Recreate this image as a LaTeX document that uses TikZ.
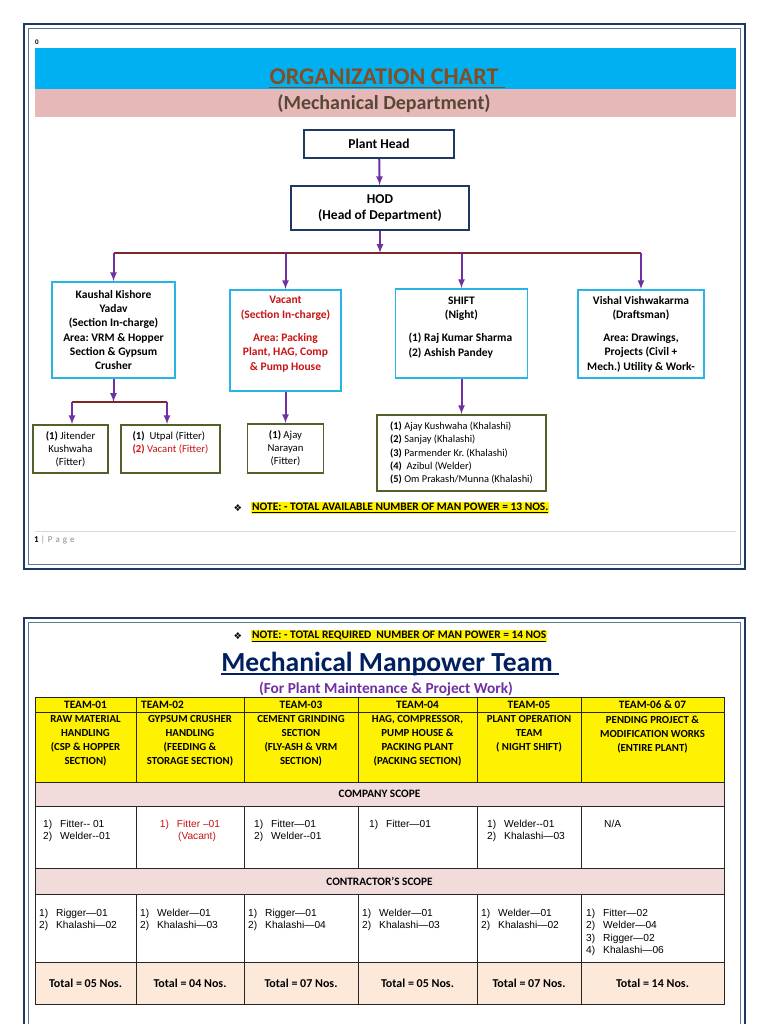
\documentclass[tikz,border=0pt]{standalone}
\usepackage{fontspec}
\setmainfont{Carlito}
\newfontfamily\arialfont{Liberation Sans}
\newfontfamily\symfont{DejaVu Sans}
\frenchspacing

\definecolor{framenavy}{RGB}{31,56,100}
\definecolor{skyband}{RGB}{0,176,240}
\definecolor{pinkband}{RGB}{230,184,183}
\definecolor{titlebrown}{RGB}{132,78,36}
\definecolor{subbrown}{RGB}{89,72,56}
\definecolor{arrowpurple}{RGB}{112,48,160}
\definecolor{busred}{RGB}{125,40,40}
\definecolor{boxcyan}{RGB}{40,180,230}
\definecolor{staffolive}{RGB}{79,98,40}
\definecolor{vacred}{RGB}{200,20,20}
\definecolor{teamnavy}{RGB}{0,32,96}
\definecolor{scopepink}{RGB}{242,220,219}
\definecolor{totalpeach}{RGB}{253,233,217}

\newcommand{\fsz}[2]{\fontsize{#1}{#2}\selectfont}
\newcommand{\numlbl}[1]{\makebox[17pt][l]{#1}}

\begin{document}
\begin{tikzpicture}[x=1pt, y=-1pt, >=latex,
    headbox/.style={draw=framenavy, line width=1.6, fill=white, align=center, font=\fsz{13.5}{16}\bfseries},
    orgbox/.style={draw=boxcyan, line width=1.6, align=center, font=\fsz{11.5}{14.3}\bfseries},
    staffbox/.style={draw=staffolive, line width=1.6, align=center, font=\fsz{10.7}{13}},
    arrow/.style={->, arrowpurple, line width=2},
    bus/.style={busred, line width=1.6},
    note/.style={fill=yellow, inner sep=1, anchor=west, font=\fsz{11.4}{13}\bfseries},
    grid/.style={black!85, line width=0.8},
    teamhead/.style={inner sep=0, font=\fsz{11.3}{13}\bfseries},
    teamdesc/.style={anchor=north, align=center, inner sep=0, font=\fsz{10.8}{14}\bfseries},
    celltxt/.style={anchor=north west, align=left, inner sep=0, font=\arialfont\fsz{10.2}{12.3}},
    totaltxt/.style={inner sep=0, font=\fsz{12}{14}\bfseries}]
  \useasboundingbox (0,0) rectangle (768,1024);
  \fill[white] (0,0) rectangle (768,1024);

  % Page frames
  \draw[framenavy, line width=2.5] (24,24) rectangle (745,569);
  \draw[framenavy!70, line width=0.7] (28.5,28.5) rectangle (740.5,564.5);
  \draw[framenavy, line width=2.5] (24,618) rectangle (745,1040);
  \draw[framenavy!70, line width=0.7] (28.5,622.5) rectangle (740.5,1040);
  \node[font=\fsz{7}{8}\bfseries] (zero) at (37,42) {0};

  % Title bands
  \fill[skyband] (35,48) rectangle (736,89);
  \fill[pinkband] (35,89) rectangle (736,117);
  \node[anchor=base, inner sep=0, text=titlebrown, font=\fsz{24}{27}\bfseries] (orgtitle) at (384,85) {ORGANIZATION CHART};
  \draw[titlebrown, line width=1.4] ([yshift=-2.5pt]orgtitle.base west) -- ([xshift=6pt, yshift=-2.5pt]orgtitle.base east);
  \node[anchor=base, inner sep=0, text=subbrown, font=\fsz{20}{23}\bfseries] (dept) at (384,110) {(Mechanical Department)};

  % Heads
  \node[headbox, minimum width=150, minimum height=28] (plant) at (379,144) {Plant Head};
  \node[headbox, minimum width=178, minimum height=44] (hod) at (380,208) {HOD\\(Head of Department)};
  \draw[arrow] (plant) -- (hod);

  % Section boxes
  \node[orgbox, minimum width=123, minimum height=96] (kaushal) at (113.5,330)
    {Kaushal Kishore\\Yadav\\(Section In-charge)\\Area: VRM \& Hopper\\Section \& Gypsum\\Crusher};
  \node[orgbox, text=vacred, minimum width=111, minimum height=101] (vacant) at (285.5,340.5)
    {Vacant\\(Section In-charge)\\[9pt]Area: Packing\\Plant, HAG, Comp\\\& Pump House\\~};
  \node[orgbox, minimum width=132, minimum height=89] (shift) at (461.5,333.5)
    {SHIFT\\(Night)\\[9pt]\makebox[106pt][l]{(1) Raj Kumar Sharma}\\\makebox[106pt][l]{(2) Ashish Pandey}\\~};
  \node[orgbox, minimum width=126, minimum height=88] (vishal) at (641,334)
    {Vishal Vishwakarma\\(Draftsman)\\[9pt]Area: Drawings,\\Projects (Civil +\\Mech.) Utility \& Work-};

  \coordinate (busL) at (113.5,253);
  \coordinate (busR) at (641,253);
  \draw[bus] (busL) -- (busR);
  \draw[arrow] (hod) -- (hod |- busL);
  \draw[arrow] (kaushal |- busL) -- (kaushal);
  \draw[arrow] (vacant |- busL) -- (vacant);
  \draw[arrow] (shift |- busL) -- (shift);
  \draw[arrow] (vishal |- busL) -- (vishal);

  % Staff boxes
  \node[staffbox, minimum width=75, minimum height=48] (jitender) at (70.5,449) {\textbf{(1)} Jitender\\Kushwaha\\(Fitter)};
  \node[staffbox, align=left, minimum width=99, minimum height=48] (utpal) at (170.5,449)
    {\textbf{(1)}\ \ Utpal (Fitter)\\\textcolor{vacred}{\textbf{(2)} Vacant (Fitter)}\\~};
  \node[staffbox, minimum width=76, minimum height=49] (ajay) at (285.5,448.5) {\textbf{(1)} Ajay\\Narayan\\(Fitter)};
  \node[staffbox, align=left, minimum width=169, minimum height=76, font=\fsz{10.4}{13.2}] (shiftteam) at (461.5,453)
    {\textbf{(1)} Ajay Kushwaha (Khalashi)\\\textbf{(2)} Sanjay (Khalashi)\\\textbf{(3)} Parmender Kr. (Khalashi)\\\textbf{(4)}\ \ Azibul (Welder)\\\textbf{(5)} Om Prakash/Munna (Khalashi)};

  \coordinate (subL) at (72,402);
  \coordinate (subR) at (167,402);
  \draw[arrow] (kaushal) -- (kaushal |- subL);
  \draw[bus] (subL) -- (subR);
  \draw[arrow] (subL) -- (subL |- jitender.north);
  \draw[arrow] (subR) -- (subR |- utpal.north);
  \draw[arrow] (vacant) -- (ajay);
  \draw[arrow] (shift) -- (shiftteam);

  % Note and footer of page 1
  \node[font=\symfont\fsz{9.5}{10}] (diam1) at (238,508) {❖};
  \node[note] (note1) at (251,508) {\underline{NOTE: - TOTAL AVAILABLE NUMBER OF MAN POWER = 13 NOS.}};
  \draw[black!15, line width=0.8] (35,531) -- (736,531);
  \node[anchor=west, inner sep=0, font=\fsz{9}{10}] (footer) at (34,540)
    {\textbf{1}\hspace{2pt}\textcolor{black!45}{|\hspace{3pt}P\hspace{3pt}a\hspace{3pt}g\hspace{3pt}e}};

  % Page 2 titles
  \node[font=\symfont\fsz{9.5}{10}] (diam2) at (238,636) {❖};
  \node[note] (note2) at (251,636) {\underline{NOTE: - TOTAL REQUIRED\ \ NUMBER OF MAN POWER = 14 NOS}};
  \node[anchor=base, inner sep=0, text=teamnavy, font=\fsz{27.6}{31}\bfseries] (teamtitle) at (387,671) {Mechanical Manpower Team};
  \draw[teamnavy, line width=1.5] ([yshift=-3pt]teamtitle.base west) -- ([xshift=6pt, yshift=-3pt]teamtitle.base east);
  \node[anchor=base, inner sep=0, text=arrowpurple, font=\fsz{15.3}{18}\bfseries] (purpose) at (386,693) {(For Plant Maintenance \& Project Work)};

  % Table fills and grid
  \fill[yellow] (35,697) rectangle (724,782);
  \fill[scopepink] (35,782) rectangle (724,806);
  \fill[scopepink] (35,868) rectangle (724,894);
  \fill[totalpeach] (35,962) rectangle (724,1004);
  \draw[grid] (35,697) rectangle (724,1004);
  \draw[grid] (35,712) -- (724,712) (35,782) -- (724,782) (35,806) -- (724,806)
    (35,868) -- (724,868) (35,894) -- (724,894) (35,962) -- (724,962);
  \draw[grid] (136,697) -- (136,782) (244,697) -- (244,782) (358,697) -- (358,782)
    (477,697) -- (477,782) (581,697) -- (581,782);
  \draw[grid] (136,806) -- (136,868) (244,806) -- (244,868) (358,806) -- (358,868)
    (477,806) -- (477,868) (581,806) -- (581,868);
  \draw[grid] (136,894) -- (136,1004) (244,894) -- (244,1004) (358,894) -- (358,1004)
    (477,894) -- (477,1004) (581,894) -- (581,1004);

  % Team headers
  \node[teamhead] (team1) at (85.5,704.5) {TEAM-01};
  \node[teamhead, anchor=west] (team2) at (141,704.5) {TEAM-02};
  \node[teamhead] (team3) at (301,704.5) {TEAM-03};
  \node[teamhead] (team4) at (417.5,704.5) {TEAM-04};
  \node[teamhead] (team5) at (529,704.5) {TEAM-05};
  \node[teamhead] (team6) at (652.5,704.5) {TEAM-06 \& 07};

  \node[teamdesc] (area1) at (85.5,715.5) {RAW MATERIAL\\HANDLING\\(CSP \& HOPPER\\SECTION)};
  \node[teamdesc] (area2) at (190,715.5) {GYPSUM CRUSHER\\HANDLING\\(FEEDING \&\\STORAGE SECTION)};
  \node[teamdesc] (area3) at (301,715.5) {CEMENT GRINDING\\SECTION\\(FLY-ASH \& VRM\\SECTION)};
  \node[teamdesc] (area4) at (417.5,715.5) {HAG, COMPRESSOR,\\PUMP HOUSE \&\\PACKING PLANT\\(PACKING SECTION)};
  \node[teamdesc] (area5) at (529,715.5) {PLANT OPERATION\\TEAM\\( NIGHT SHIFT)};
  \node[teamdesc] (area6) at (652.5,715.5) {PENDING PROJECT \&\\MODIFICATION WORKS\\(ENTIRE PLANT)};

  % Company scope
  \node[teamhead] (companyscope) at (379.5,794) {COMPANY SCOPE};
  \node[celltxt] (comp1) at (43,820) {\numlbl{1)}Fitter-{}- 01\\\numlbl{2)}Welder-{}-01};
  \node[celltxt, anchor=north, align=center, text=vacred] (comp2) at (190,820) {\numlbl{1)}Fitter –01\\\hspace*{14pt}(Vacant)};
  \node[celltxt] (comp3) at (254,820) {\numlbl{1)}Fitter—01\\\numlbl{2)}Welder-{}-01};
  \node[celltxt] (comp4) at (369,820) {\numlbl{1)}Fitter—01};
  \node[celltxt] (comp5) at (487,820) {\numlbl{1)}Welder-{}-01\\\numlbl{2)}Khalashi—03};
  \node[celltxt] (comp6) at (604,820) {N/A};

  % Contractor scope
  \node[teamhead] (contractscope) at (379.5,881) {CONTRACTOR'S SCOPE};
  \node[celltxt] (contr1) at (39,909) {\numlbl{1)}Rigger—01\\\numlbl{2)}Khalashi—02};
  \node[celltxt] (contr2) at (140,909) {\numlbl{1)}Welder—01\\\numlbl{2)}Khalashi—03};
  \node[celltxt] (contr3) at (248,909) {\numlbl{1)}Rigger—01\\\numlbl{2)}Khalashi—04};
  \node[celltxt] (contr4) at (362,909) {\numlbl{1)}Welder—01\\\numlbl{2)}Khalashi—03};
  \node[celltxt] (contr5) at (481,909) {\numlbl{1)}Welder—01\\\numlbl{2)}Khalashi—02};
  \node[celltxt] (contr6) at (586,909) {\numlbl{1)}Fitter—02\\\numlbl{2)}Welder—04\\\numlbl{3)}Rigger—02\\\numlbl{4)}Khalashi—06};

  % Totals
  \node[totaltxt] (total1) at (85.5,983) {Total = 05 Nos.};
  \node[totaltxt] (total2) at (190,983) {Total = 04 Nos.};
  \node[totaltxt] (total3) at (301,983) {Total = 07 Nos.};
  \node[totaltxt] (total4) at (417.5,983) {Total = 05 Nos.};
  \node[totaltxt] (total5) at (529,983) {Total = 07 Nos.};
  \node[totaltxt] (total6) at (652.5,983) {Total = 14 Nos.};
\end{tikzpicture}
\end{document}
